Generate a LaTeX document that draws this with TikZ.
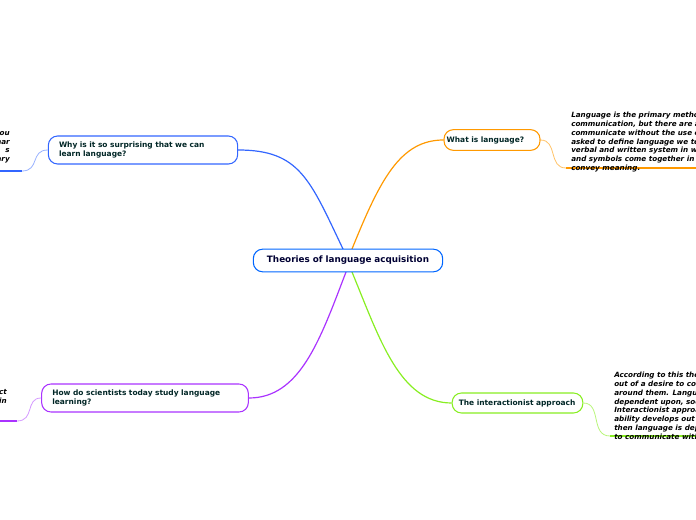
\documentclass[tikz,border=0pt]{standalone}
\usepackage{fontspec}
\setmainfont{DejaVu Sans}
\definecolor{cor}{HTML}{FF9900}
\definecolor{cbl}{HTML}{3366FF}
\definecolor{cpu}{HTML}{AA33FF}
\definecolor{cgr}{HTML}{88EE22}
\begin{document}
\begin{tikzpicture}[x=0.75pt,y=-0.75pt,
 topic/.style={draw=#1,rounded corners=7pt,line width=0.8pt,fill=white,font=\bfseries\fontsize{5.6}{7}\selectfont,text=black!70!teal,align=left,inner sep=0pt},
 conn/.style={draw=#1,line width=0.9pt},
 note/.style={font=\bfseries\itshape\fontsize{5.4}{6.6}\selectfont,align=left,inner sep=0pt,anchor=north west},
 noter/.style={font=\bfseries\itshape\fontsize{5.4}{6.6}\selectfont,align=right,inner sep=0pt,anchor=north east}]
\useasboundingbox (0,0) rectangle (696,520);
\clip (0,0) rectangle (696,520);
\coordinate (ct1) at (343,249);\coordinate (ct2) at (352,249);
\coordinate (cb1) at (346,272);\coordinate (cb2) at (352,272);
\node[topic=cor,minimum width=72pt,minimum height=15.5pt,text width=68pt] (what) at (492,140) {What is language?};
\node[topic=cbl,minimum width=142pt,minimum height=21pt,text width=126pt] (why) at (143,150) {Why is it so surprising that we can learn language?};
\node[topic=cpu,minimum width=155pt,minimum height=21pt,text width=139pt] (how) at (145,398) {How do scientists today study language learning?};
\node[topic=cgr,minimum width=98pt,minimum height=15pt,text width=88pt] (inter) at (517.5,403) {The interactionist approach};
\draw[conn=cor] (ct2) .. controls (380,180) and (400,140) .. (what.west);
\draw[conn=cbl] (ct1) .. controls (310,180) and (300,150) .. (why.east);
\draw[conn=cpu] (cb1) .. controls (320,340) and (300,398) .. (how.east);
\draw[conn=cgr] (cb2) .. controls (380,340) and (400,403) .. (inter.west);
\node[topic=blue!60!cyan,minimum width=142pt,minimum height=17pt,text width=132pt,font=\bfseries\fontsize{6.6}{8}\selectfont,text=black!80!blue,align=center] (c) at (348,260.5) {\centering Theories of language acquisition};
\coordinate (n1) at (566,168);\coordinate (n1e) at (700,168);
\draw[conn=cor!60,line width=0.6pt] (what.east) .. controls (558,140) and (548,168) .. (n1);
\draw[conn=cor,line width=1.4pt] (n1) -- (n1e);
\node[note] (t1) at (571,112) {Language is the primary method of human\\communication, but there are also other ways to\\communicate without the use of language. When\\asked to define language we tend to think of\\verbal and written system in which combined\\and symbols come together in a specific way to\\convey meaning.};
\coordinate (n2) at (610,436);\coordinate (n2e) at (700,436);
\draw[conn=cgr!60,line width=0.6pt] (inter.east) .. controls (602,403) and (590,436) .. (n2);
\draw[conn=cgr,line width=1.4pt] (n2) -- (n2e);
\node[note] (t2) at (614,372) {According to this theory, language emerges\\out of a desire to communicate with those\\around them. Language is therefore\\dependent upon, social interaction. The\\Interactionist approach claims that\\ability develops out of a desire\\then language is dependent on\\to communicate with.};
\coordinate (n3) at (22,171);\coordinate (n3e) at (-5,171);
\draw[conn=cbl!50,line width=0.6pt] (why.west) .. controls (30,150) and (40,171) .. (n3);
\draw[conn=cbl,line width=1.4pt] (n3) -- (n3e);
\node[noter] (t3) at (10,131) {you\\grammar\\s\\ary};
\coordinate (n4) at (17,421);\coordinate (n4e) at (-5,421);
\draw[conn=cpu!50,line width=0.6pt] (how.west) .. controls (25,398) and (35,421) .. (n4);
\draw[conn=cpu,line width=1.4pt] (n4) -- (n4e);
\node[noter] (t4) at (7,389) {ct\\in};
\end{tikzpicture}
\end{document}
